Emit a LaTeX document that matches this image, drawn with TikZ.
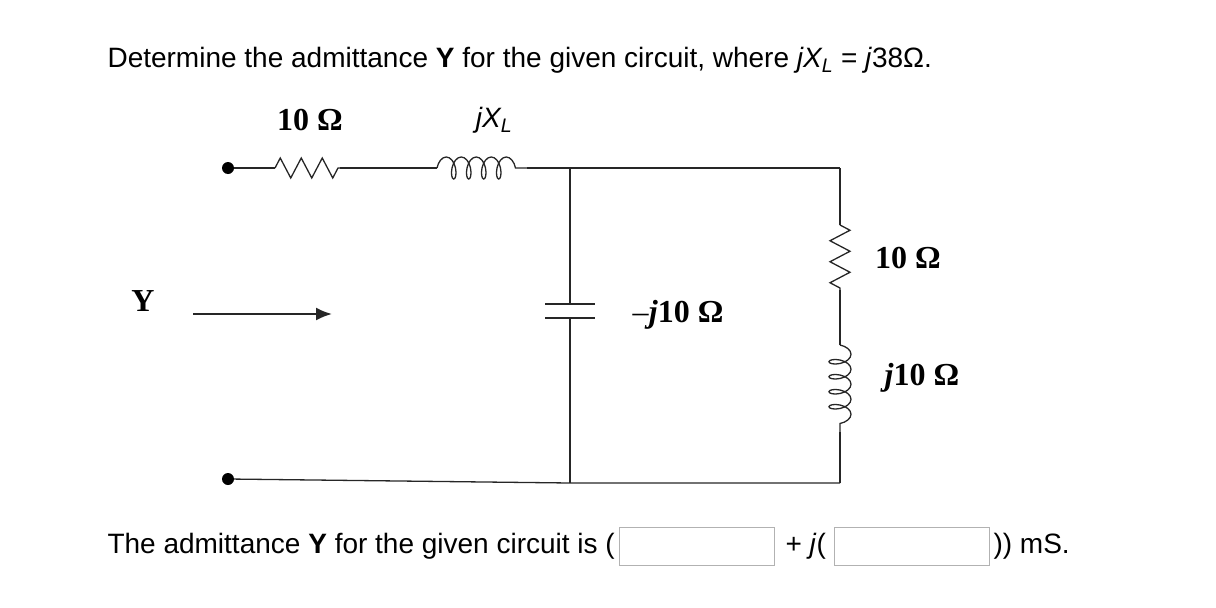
\documentclass[tikz,border=0pt]{standalone}
\usepackage{fontspec}
\setmainfont{Liberation Serif}
\newfontfamily\sansf{Liberation Sans}
\usetikzlibrary{decorations.pathmorphing, arrows.meta, calc}
\tikzset{
  wire/.style = {line width = 1.3pt, black!85},
  res/.style = {wire, decorate, decoration = {zigzag, segment length = 21pt, amplitude = 10pt}},
  ind/.style = {wire, decorate, decoration = {coil, segment length = 15pt, amplitude = 11pt, aspect = 0.5}},
  term/.style = {circle, fill = black, inner sep = 0pt, minimum size = 12pt},
  val/.style = {font = \fontsize{32}{32}\selectfont\bfseries},
  txt/.style = {font = \sansf\fontsize{28}{28}\selectfont, anchor = west},
  ansbox/.style = {draw = black!30, line width = 0.8pt, minimum width = 155pt, minimum height = 38pt}
}
\begin{document}
\begin{tikzpicture}[x = 1pt, y = -1pt]
\useasboundingbox (0,0) rectangle (1216,608);
% question
\node (question) [txt] at (104,60) {Determine the admittance \textbf{Y} for the given circuit, where \textit{jX\textsubscript{L}} = \textit{j}38Ω.};

% terminals and corners
\node (tA) [term] at (228,168) {};
\node (tB) [term] at (228,479) {};
\coordinate (r1a) at (275,168);
\coordinate (r1b) at (340,168);
\coordinate (l1a) at (437,168);
\coordinate (l1b) at (527,168);
\coordinate (top) at (570,168);
\coordinate (topR) at (840,168);
\coordinate (capT) at (570,304);
\coordinate (capB) at (570,318);
\coordinate (bot) at (570,483);
\coordinate (botR) at (840,483);
\coordinate (r2a) at (840,225);
\coordinate (r2b) at (840,290);
\coordinate (l2a) at (840,345);
\coordinate (l2b) at (840,432);

% series branch
\draw[wire] (tA) -- (r1a);
\draw[res] (r1a) -- (r1b);
\draw[wire] (r1b) -- (l1a);
\draw[ind] (l1a) -- (l1b);
\draw[wire] (l1b) -- (top) -- (topR);

% capacitor
\draw[wire] (top) -- (capT);
\draw[wire] ($(capT) + (-25,0)$) -- ($(capT) + (25,0)$);
\draw[wire] ($(capB) + (-25,0)$) -- ($(capB) + (25,0)$);
\draw[wire] (capB) -- (bot);

% RL branch
\draw[wire] (topR) -- (r2a);
\draw[res] (r2a) -- (r2b);
\draw[wire] (r2b) -- (l2a);
\draw[ind] (l2a) -- (l2b);
\draw[wire] (l2b) -- (botR);
\draw[wire] (tB) -- (bot) -- (botR);

% labels
\node (lr1) [val] at (310,120) {10 Ω};
\node (ll1) [font = \sansf\fontsize{28}{28}\selectfont] at (494,120) {\textit{jX\textsubscript{L}}};
\node (lr2) [val] at (908,258) {10 Ω};
\node (lc) [val] at (678,315) {\textit{\mdseries --}\textit{j}10 Ω};
\node (ll2) [val] at (922,378) {\textit{j}10 Ω};
\node (Y) [val] at (143,301) {Y};
\coordinate (arrS) at (193,314);
\coordinate (arrE) at (332,314);
\draw[wire, line width = 2pt, -{Latex[length = 16pt, width = 13pt]}] (arrS) -- (arrE);

% answer line
\node (ans) [txt] at (104,546) {The admittance \textbf{Y} for the given circuit is (};
\node (box1) [ansbox] at (697,546) {};
\node (plusj) [txt] at (782,546) {+ \textit{j}(};
\node (box2) [ansbox] at (912,546) {};
\node (unit) [txt] at (990,546) {)) mS.};
\end{tikzpicture}
\end{document}
